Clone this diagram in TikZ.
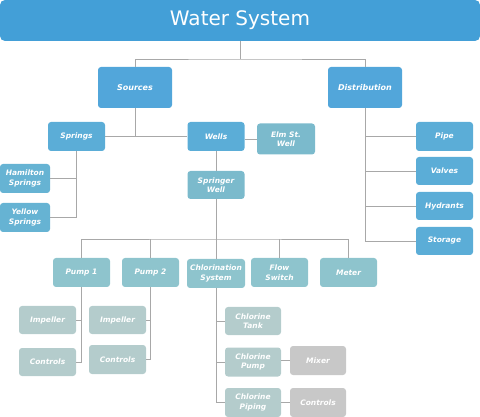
\documentclass[tikz,border=0pt]{standalone}
\usepackage{fontspec}
\newfontfamily\vfont{DejaVu Sans}
\definecolor{ctitle}{HTML}{439FD7}
\definecolor{cl1}{HTML}{52A6DA}
\definecolor{cl2}{HTML}{5BADD7}
\definecolor{cl2b}{HTML}{66B3D3}
\definecolor{cl3}{HTML}{7BBACC}
\definecolor{cl4}{HTML}{8EC4CD}
\definecolor{cl5}{HTML}{B4CCCC}
\definecolor{cl6}{HTML}{C8C8C8}
\definecolor{cline}{HTML}{A8A8A8}
\tikzset{
  box/.style={rounded corners=3pt, inner sep=0pt, text=white, align=center,
    font=\vfont\bfseries\itshape\fontsize{7.5}{9.5}\selectfont,
    minimum width=57pt, minimum height=29pt},
  conn/.style={draw=cline, line width=0.9pt},
}
\begin{document}
\begin{tikzpicture}[x=1pt,y=-1pt]
\useasboundingbox (0,0) rectangle (480,417);
% title
\node[box, fill=ctitle, minimum width=480pt, minimum height=41pt, rounded corners=5pt,
  font=\vfont\fontsize{20}{24}\selectfont] (title) at (240,20.5) {Water System};
% level 1
\node[box, fill=cl1, minimum width=74pt, minimum height=41pt, font=\vfont\bfseries\itshape\fontsize{8}{10}\selectfont] (sources) at (135,87.5) {Sources};
\node[box, fill=cl1, minimum width=74pt, minimum height=41pt, font=\vfont\bfseries\itshape\fontsize{8}{10}\selectfont] (dist) at (365,87.5) {Distribution};
% level 2
\node[box, fill=cl2] (springs) at (76.5,136.5) {Springs};
\node[box, fill=cl2] (wells) at (216,136.5) {Wells};
\node[box, fill=cl3, minimum width=58pt, minimum height=31pt] (elm) at (286,139) {Elm St.\\Well};
\node[box, fill=cl2b, minimum width=50pt] (hamilton) at (25,178.5) {Hamilton\\Springs};
\node[box, fill=cl2b, minimum width=50pt] (yellow) at (25,217.5) {Yellow\\Springs};
\node[box, fill=cl3, minimum height=28pt] (springer) at (216,185) {Springer\\Well};
% distribution
\node[box, fill=cl2] (pipe) at (444.5,136.5) {Pipe};
\node[box, fill=cl2, minimum height=28pt] (valves) at (444.5,171) {Valves};
\node[box, fill=cl2, minimum height=28pt] (hydrants) at (444.5,206) {Hydrants};
\node[box, fill=cl2, minimum height=28pt] (storage) at (444.5,241) {Storage};
% well components
\node[box, fill=cl4] (pump1) at (81.5,272.5) {Pump 1};
\node[box, fill=cl4] (pump2) at (150.5,272.5) {Pump 2};
\node[box, fill=cl4, minimum width=58pt] (chlor) at (216,273.5) {Chlorination\\System};
\node[box, fill=cl4] (flow) at (279.5,272.5) {Flow\\Switch};
\node[box, fill=cl4] (meter) at (348.5,272.5) {Meter};
% pump parts
\node[box, fill=cl5, minimum height=28pt] (imp1) at (47.5,320) {Impeller};
\node[box, fill=cl5, minimum height=28pt] (ctl1) at (47.5,362) {Controls};
\node[box, fill=cl5, minimum height=28pt] (imp2) at (117.5,320) {Impeller};
\node[box, fill=cl5] (ctl2) at (117.5,359.5) {Controls};
% chlorination parts
\node[box, fill=cl5, minimum width=56pt, minimum height=28pt] (ctank) at (253,321) {Chlorine\\Tank};
\node[box, fill=cl5, minimum width=56pt] (cpump) at (253,362) {Chlorine\\Pump};
\node[box, fill=cl5, minimum width=56pt] (cpiping) at (253,402.5) {Chlorine\\Piping};
\node[box, fill=cl6, minimum width=56pt] (mixer) at (318,360.5) {Mixer};
\node[box, fill=cl6, minimum width=56pt] (ctl3) at (318,402.5) {Controls};
% connectors
\coordinate (b1) at (240,59);
\draw[conn] (title.south) -- (b1);
\draw[conn] (sources.north) |- (b1) -| (dist.north);
\draw[conn] (springs.east) -- (wells.west);
\draw[conn] (sources.south) -- (sources.south |- springs.east);
\draw[conn] (elm.west -| wells.east) -- (elm.west);
\draw[conn] (springs.south) |- (yellow.east);
\draw[conn] (hamilton.east) -- (hamilton.east -| springs.south);
\draw[conn] (wells.south) -- (springer.north);
\coordinate (b3) at (216,239);
\draw[conn] (springer.south) -- (chlor.north);
\draw[conn] (pump1.north) |- (b3) -| (meter.north);
\draw[conn] (pump2.north) -- (pump2.north |- b3);
\draw[conn] (flow.north) -- (flow.north |- b3);
\draw[conn] (dist.south) |- (storage.west);
\draw[conn] (pipe.west) -- (pipe.west -| dist.south);
\draw[conn] (valves.west) -- (valves.west -| dist.south);
\draw[conn] (hydrants.west) -- (hydrants.west -| dist.south);
\draw[conn] (pump1.south) |- (ctl1.east);
\draw[conn] (imp1.east) -- (imp1.east -| pump1.south);
\draw[conn] (pump2.south) |- (ctl2.east);
\draw[conn] (imp2.east) -- (imp2.east -| pump2.south);
\draw[conn] (chlor.south) |- (cpiping.west);
\draw[conn] (ctank.west) -- (ctank.west -| chlor.south);
\draw[conn] (cpump.west) -- (cpump.west -| chlor.south);
\draw[conn] (cpump.east |- mixer.west) -- (mixer.west);
\draw[conn] (cpiping.east) -- (ctl3.west);
\end{tikzpicture}
\end{document}
